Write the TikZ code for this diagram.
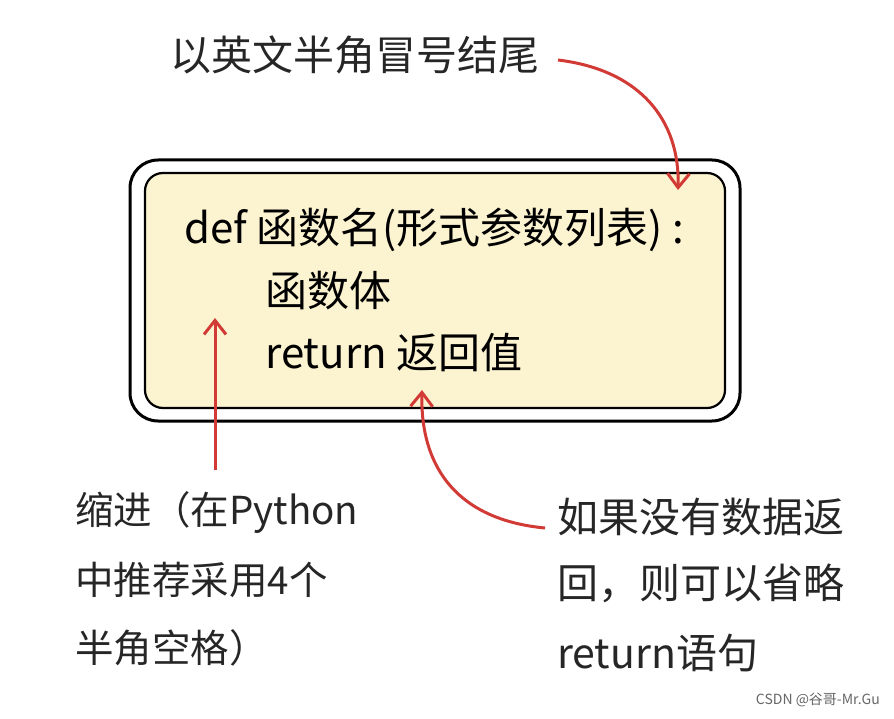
\documentclass[tikz,border=0pt]{standalone}
\usepackage{fontspec}
\setmainfont{Noto Sans CJK SC}
\usetikzlibrary{arrows.meta}
\definecolor{boxfill}{HTML}{FCF3D0}
\definecolor{arrred}{HTML}{D23A36}
\tikzset{
 big/.style={font=\fontsize{42}{48}\selectfont, anchor=west, inner sep=0},
 side/.style={anchor=west, inner sep=0, text=black!85},
 redarrow/.style={draw=arrred, line width=3pt, -{Straight Barb[length=14pt,width=22pt,line width=3pt]}}
}
\begin{document}
\begin{tikzpicture}[x=1pt,y=-1pt]
\useasboundingbox (0,0) rectangle (894,719);
\fill[white] (0,0) rectangle (894,719);
\draw[line width=3pt, rounded corners=28pt] (130,160) rectangle (740,421);
\draw[line width=2.2pt, fill=boxfill, rounded corners=18pt] (145,173) rectangle (725,408);
\node[side, font=\fontsize{41}{46}\selectfont] (t1) at (170,55) {以英文半角冒号结尾};
\node[big] (c1) at (184,230) {def 函数名(形式参数列表) :};
\node[big] (c2) at (265,291) {函数体};
\node[big] (c3) at (265,353) {return 返回值};
\node[side, font=\fontsize{38.5}{44}\selectfont] (l1) at (75,513) {缩进（在Python};
\node[side, font=\fontsize{38.5}{44}\selectfont] (l2) at (75,580) {中推荐采用4个};
\node[side, font=\fontsize{38.5}{44}\selectfont] (l3) at (75,648) {半角空格）};
\node[side, font=\fontsize{41}{46}\selectfont] (r1) at (557,517) {如果没有数据返};
\node[side, font=\fontsize{41}{46}\selectfont] (r2) at (557,583) {回，则可以省略};
\node[side, font=\fontsize{41}{46}\selectfont] (r3) at (557,653) {return语句};
\node[font=\fontsize{14}{16}\selectfont, text=black!60, anchor=east, inner sep=0] (wm) at (880,700) {CSDN @谷哥-Mr.Gu};
\coordinate (a1s) at (558,60);
\coordinate (a1e) at (678,190);
\draw[redarrow] (a1s) .. controls (640,70) and (680,120) .. (a1e);
\coordinate (a2s) at (215,470);
\coordinate (a2e) at (215,318);
\draw[redarrow] (a2s) -- (a2e);
\coordinate (a3s) at (545,528);
\coordinate (a3e) at (422,390);
\draw[redarrow] (a3s) .. controls (460,520) and (420,470) .. (a3e);
\end{tikzpicture}
\end{document}
